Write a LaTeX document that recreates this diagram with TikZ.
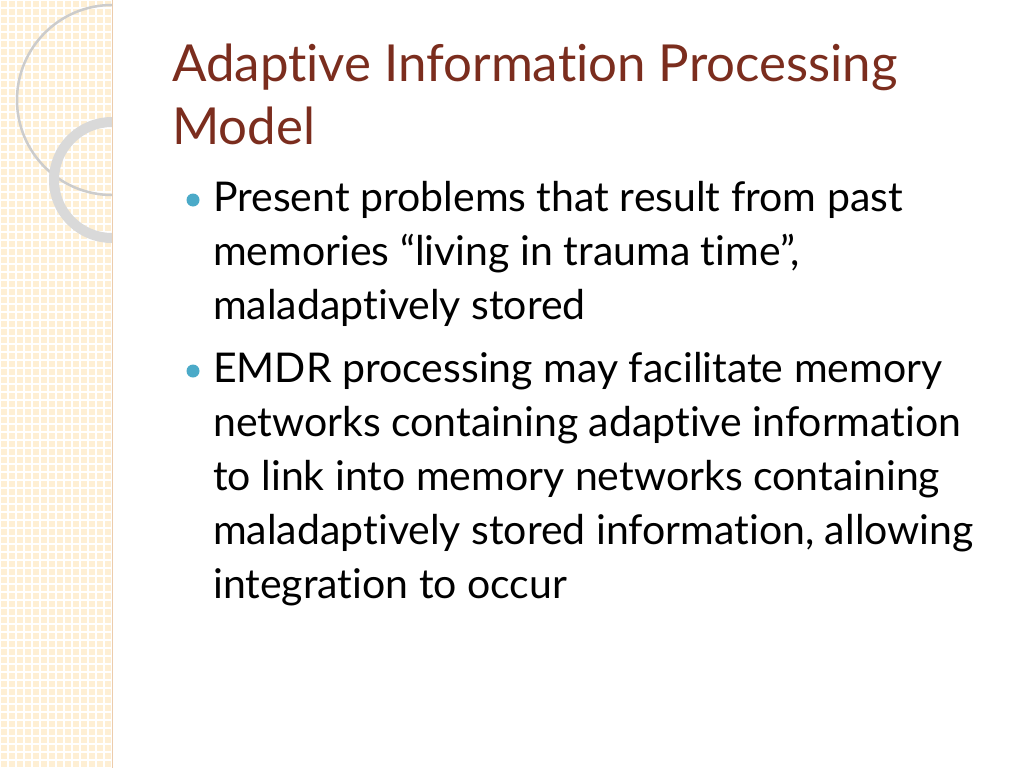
\documentclass[tikz,border=0pt]{standalone}
\usepackage{fontspec}
\setmainfont{Lato}[Ligatures={NoCommon,NoRare}]
\begin{document}
\begin{tikzpicture}[x=1pt,y=-1pt,
  body/.style={anchor=north west,inner sep=0pt,align=left,font=\fontsize{41}{54}\selectfont,text=black},
  bul/.style={circle,fill={rgb,255:red,75;green,170;blue,200},inner sep=0pt,minimum size=13pt}]
\useasboundingbox (0,0) rectangle (1024,768);
\fill[white] (0,0) rectangle (1024,768);
\fill[yellow!25!orange!15] (0,0) rectangle (112,768);
\foreach \i in {0,8,...,112} \draw[white,line width=1.2pt] (\i,0) -- (\i,768);
\foreach \j in {0,8,...,768} \draw[white,line width=1.2pt] (0,\j) -- (112,\j);
\draw[orange!30!brown!40,line width=1pt] (112,0) -- (112,768);
\begin{scope}
\clip (0,0) rectangle (112,768);
\draw[gray!40,line width=2.5pt] (112,100) circle[radius=95];
\draw[gray!30,line width=10pt] (112,180) circle[radius=58];
\end{scope}
\node[anchor=north west,inner sep=0pt,align=left,text={rgb,255:red,123;green,45;blue,30},font=\fontsize{51}{63}\selectfont] (title) at (172,44) {Adaptive Information Processing\\Model};
\node[bul] (b1) at (193,200) {};
\node[body] (t1) at (213,181) {Present problems that result from past\\memories “living in trauma time”,\\maladaptively stored};
\node[bul] (b2) at (193,371) {};
\node[body] (t2) at (213,352) {EMDR processing may facilitate memory\\networks containing adaptive information\\to link into memory networks containing\\maladaptively stored information, allowing\\integration to occur};
\end{tikzpicture}
\end{document}
